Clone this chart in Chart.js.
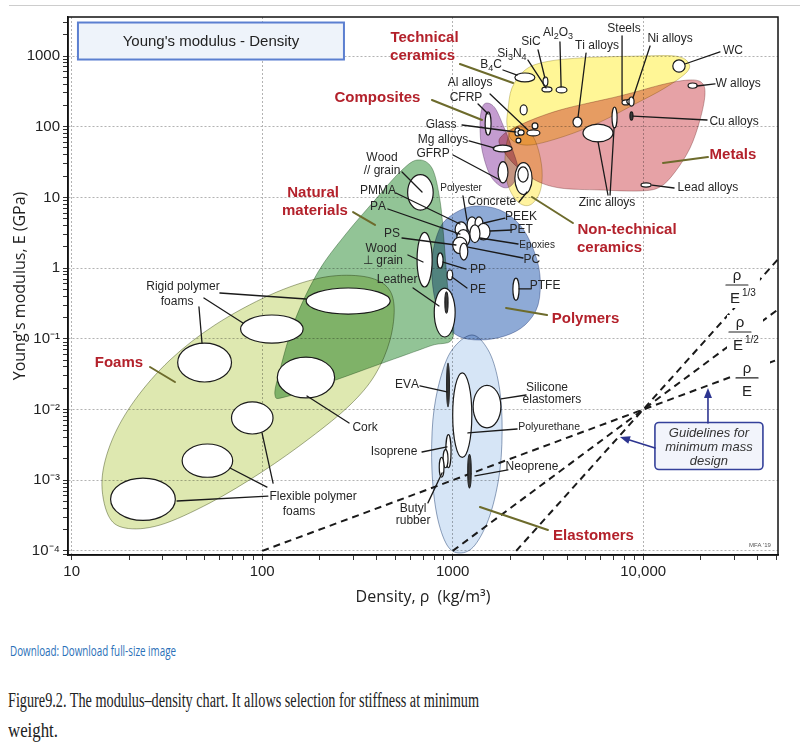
<!DOCTYPE html>
<html>
<head>
<meta charset="utf-8">
<script src="https://cdn.jsdelivr.net/npm/chart.js@4.4.1/dist/chart.umd.min.js"></script>
<style>
  body { margin: 0; background: #fff; width: 800px; height: 748px; overflow: hidden; position: relative; }
  #rule { position: absolute; left: 9px; top: 5px; width: 791px; border-top: 1.5px solid #cdcdcd; }
  #wrap { position: absolute; left: 0; top: 0; width: 800px; height: 620px; }
  .fit { position: absolute; white-space: nowrap; display: inline-block; transform-origin: 0 50%; }
  #dl { left: 10px; top: 642px; font: 14px/18px "Open Sans", sans-serif; color: #2a70b8; }
  .cap { left: 8px; font: 20px/24px "Liberation Serif", serif; color: #222; }
</style>
</head>
<body>
<div id="rule"></div>
<div id="wrap"><canvas id="chart" width="800" height="620"></canvas></div>
<div id="dl" class="fit" data-w="166">Download: Download full-size image</div>
<div class="cap fit" style="top:688px" data-w="471">Figure9.2. The modulus–density chart. It allows selection for stiffness at minimum</div>
<div class="cap fit" style="top:718px" data-w="50">weight.</div>

<script>
// ---- axis ticks ----
const xMajor = [10, 100, 1000, 10000];
const xMajorLabels = ['10', '100', '1000', '10,000'];
const yMajor = [1e-4, 1e-3, 1e-2, 1e-1, 1, 10, 100, 1000];
const yMajorLabels = ['10⁻⁴', '10⁻³', '10⁻²', '10⁻¹', '1', '10', '100', '1000'];

// ---- material bubbles: [name, density min, density max (kg/m3), E min, E max (GPa)] ----
const foams = [
  ['Flexible polymer foam', 16, 35, 2.7e-4, 1.07e-3],
  ['Flexible polymer foam', 38, 70, 1.1e-3, 3.25e-3],
  ['Flexible polymer foam', 69, 114, 4.5e-3, 0.0128],
  ['Rigid polymer foam', 36, 69, 0.0245, 0.087],
  ['Rigid polymer foam', 77, 164, 0.087, 0.217],
  ['Rigid polymer foam', 170, 470, 0.224, 0.523],
  ['Cork', 120, 240, 0.0146, 0.055]
];
const naturals = [
  ['Wood // grain', 580, 790, 6.6, 21],
  ['Wood ⊥ grain', 650, 780, 0.54, 3.2],
  ['Leather', 800, 1030, 0.106, 0.52]
];
const polymers = [
  ['PMMA', 1030, 1190, 2.75, 4.5],
  ['Polyester', 1190, 1340, 3.1, 5.3],
  ['PEEK', 1310, 1440, 3.5, 5.3],
  ['PET', 1340, 1570, 2.5, 4.3],
  ['Epoxies', 1230, 1390, 2.3, 4.1],
  ['PA', 1050, 1230, 2.0, 3.5],
  ['PS', 1000, 1190, 1.6, 2.75],
  ['PC', 1090, 1200, 1.3, 2.26],
  ['PP', 830, 890, 1.0, 1.64],
  ['PE', 935, 1000, 0.68, 0.94],
  ['PTFE', 2070, 2230, 0.35, 0.72]
];
const elastomers = [
  ['Polyurethane', 1000, 1260, 0.0021, 0.033],
  ['Silicone elastomers', 1280, 1790, 0.0055, 0.022],
  ['Isoprene', 920, 980, 0.0015, 0.0044],
  ['Butyl rubber', 890, 945, 0.0015, 0.0027],
  ['Butyl rubber', 850, 900, 0.0011, 0.0021]
];
const composites = [
  ['CFRP', 1480, 1590, 76, 162],
  ['GFRP', 1730, 1950, 16, 32]
];
const ceramics = [
  ['Concrete', 2120, 2610, 11, 31],
  ['Stone', 2200, 2490, 16.5, 27],
  ['Glass', 2120, 2260, 74, 96],
  ['B4C', 2120, 2700, 430, 575],
  ['SiC', 2980, 3160, 375, 505],
  ['Si3N4', 2940, 3320, 310, 365],
  ['Al2O3', 3490, 3980, 300, 365],
  ['AlN', 2260, 2460, 147, 203],
  ['WC', 14300, 16600, 590, 880]
];
const metals = [
  ['Mg alloys', 1630, 2050, 44, 55],
  ['Al alloys', 2450, 2870, 74, 90],
  ['Al alloys', 2610, 2800, 93, 113],
  ['Al alloys', 2200, 2370, 76, 90],
  ['Al alloys', 2150, 2280, 59, 69],
  ['Ti alloys', 4280, 4770, 99, 137],
  ['Zinc alloys', 4830, 6940, 61, 109],
  ['Cast irons', 6860, 7290, 96, 190],
  ['Steels', 7740, 8520, 203, 239],
  ['Steels', 8200, 8800, 210, 245],
  ['Ni alloys', 8420, 8950, 196, 263],
  ['W alloys', 17200, 19200, 350, 415],
  ['Lead alloys', 9740, 11000, 14, 16]
];
const narrowBars = [
  ['Leather', 910, 945, 0.23, 0.46],
  ['EVA', 930, 960, 0.011, 0.045],
  ['Neoprene', 1200, 1250, 0.00078, 0.0023],
  ['Cu alloys', 8520, 8840, 124, 162]
];

// ---- minimum-mass guidelines: [density, E] end points ----
const guideRhoE = [[100, 1e-4], [51000, 0.051]];
const guideRhoE2 = [[1000, 1e-4], [51000, 0.26]];
const guideRhoE3 = [[2154, 1e-4], [51000, 1.33]];

// ---- family envelopes, [log10 density, log10 E] ----
const foamEnv = [[1.280,-3.676],[1.464,-3.634],[1.726,-3.321],[1.999,-2.883],[2.251,-2.403],[2.461,-1.936],[2.592,-1.512],[2.671,-1.017],[2.692,-0.522],[2.645,-0.239],[2.513,-0.111],[2.303,-0.140],[2.041,-0.380],[1.752,-0.804],[1.516,-1.300],[1.332,-1.865],[1.212,-2.431],[1.159,-2.996],[1.191,-3.492]];
const naturalEnv = [[2.813,1.529],[2.891,1.416],[2.933,0.963],[2.954,0.398],[2.975,-0.310],[3.002,-0.974],[2.881,-1.102],[2.618,-1.357],[2.356,-1.611],[2.120,-1.823],[2.067,-1.795],[2.093,-1.441],[2.172,-0.734],[2.293,-0.055],[2.435,0.468],[2.592,0.963],[2.723,1.359]];
const polymerEnv = [[2.933,0.567],[3.012,0.779],[3.117,0.878],[3.248,0.822],[3.353,0.610],[3.421,0.284],[3.458,-0.097],[3.448,-0.522],[3.380,-0.804],[3.274,-0.960],[3.143,-1.017],[3.028,-0.960],[2.944,-0.734],[2.902,-0.380],[2.891,0.115]];
const elastomerEnv = [[3.101,-0.946],[3.186,-1.158],[3.238,-1.583],[3.259,-2.148],[3.248,-2.855],[3.196,-3.492],[3.117,-3.917],[3.038,-4.030],[2.970,-3.917],[2.917,-3.492],[2.891,-2.855],[2.896,-2.148],[2.933,-1.583],[2.996,-1.158]];
const metalEnv = [[3.248,1.840],[3.353,2.024],[3.563,2.236],[3.878,2.435],[4.114,2.605],[4.246,2.661],[4.309,2.619],[4.324,2.448],[4.298,2.095],[4.246,1.699],[4.167,1.359],[4.088,1.147],[3.983,1.091],[3.773,1.105],[3.563,1.133],[3.432,1.246],[3.327,1.458],[3.264,1.671]];
const techCeramicEnv = [[3.290,2.236],[3.311,2.548],[3.380,2.802],[3.484,2.915],[3.668,2.972],[3.983,3.000],[4.167,3.000],[4.235,2.915],[4.230,2.775],[4.114,2.548],[3.957,2.321],[3.773,2.065],[3.590,1.868],[3.406,1.741],[3.311,1.812],[3.285,2.024]];
const compositeEnv = [[3.180,2.335],[3.222,2.265],[3.264,2.024],[3.311,1.699],[3.343,1.388],[3.311,1.175],[3.259,1.147],[3.196,1.317],[3.154,1.671],[3.143,2.024],[3.154,2.265]];
const nonTechEnv = [[3.327,1.996],[3.395,1.953],[3.442,1.741],[3.469,1.388],[3.458,1.076],[3.406,0.893],[3.343,0.935],[3.290,1.175],[3.274,1.529],[3.290,1.840]];

// ---- annotations, [log10 density, log10 E] ----
const familyLabels = [
  ['Technical', 2.852, 3.255], ['ceramics', 2.842, 3.000], ['Composites', 2.605, 2.406],
  ['Metals', 4.471, 1.600], ['Non-technical', 3.915, 0.539], ['ceramics', 3.823, 0.284],
  ['Natural', 2.267, 1.062], ['materials', 2.277, 0.808], ['Polymers', 3.697, -0.720],
  ['Foams', 1.248, -1.342], ['Elastomers', 3.739, -3.789]
];
const familyLeaders = [
  [[3.038,2.887],[3.317,2.619]], [[2.891,2.378],[3.154,2.095]], [[2.477,0.793],[2.592,0.610]],
  [[4.340,1.571],[4.104,1.487]], [[3.631,0.638],[3.416,1.006]], [[3.495,-0.663],[3.280,-0.564]],
  [[1.411,-1.399],[1.542,-1.611]], [[3.500,-3.704],[3.143,-3.379]]
];
const materialLabels = [
  ['Al_2O_3', 3.553, 3.325], ['SiC', 3.411, 3.198], ['Si_3N_4', 3.311, 3.028], ['B_4C', 3.201, 2.873],
  ['Ti alloys', 3.757, 3.141], ['Steels', 3.899, 3.382], ['Ni alloys', 4.141, 3.240], ['WC', 4.471, 3.071],
  ['W alloys', 4.498, 2.605], ['Cu alloys', 4.477, 2.065], ['Lead alloys', 4.340, 1.133], ['Zinc alloys', 3.810, 0.921],
  ['Al alloys', 3.091, 2.619], ['CFRP', 3.070, 2.406], ['Glass', 2.939, 2.024], ['Mg alloys', 2.949, 1.812],
  ['GFRP', 2.897, 1.614], ['Polyester', 3.044, 1.133, 10], ['Concrete', 3.206, 0.935], ['PEEK', 3.359, 0.723],
  ['PET', 3.359, 0.539], ['Epoxies', 3.443, 0.327, 10], ['PC', 3.416, 0.115], ['PMMA', 2.608, 1.091],
  ['PA', 2.608, 0.864], ['PS', 2.681, 0.482], ['Wood', 2.624, 0.270], ['⊥ grain', 2.634, 0.101],
  ['Wood', 2.629, 1.557], ['// grain', 2.629, 1.373], ['Leather', 2.708, -0.168], ['PP', 3.133, -0.027],
  ['PE', 3.133, -0.310], ['PTFE', 3.485, -0.253], ['Rigid polymer', 1.584, -0.267], ['foams', 1.553, -0.479],
  ['Flexible polymer', 2.267, -3.238], ['foams', 2.193, -3.450], ['Cork', 2.540, -2.262], ['EVA', 2.760, -1.653],
  ['Silicone', 3.495, -1.696], ['elastomers', 3.521, -1.865], ['Polyurethane', 3.506, -2.248, 10.5],
  ['Isoprene', 2.692, -2.601], ['Neoprene', 3.416, -2.813], ['Butyl', 2.792, -3.407], ['rubber', 2.792, -3.577]
];
const materialLeaders = [
  [[3.563,3.198],[3.569,2.562]], [[3.448,3.085],[3.484,2.689]], [[3.395,2.943],[3.490,2.548]], [[3.264,2.802],[3.338,2.731]],
  [[3.700,3.042],[3.658,2.137]], [[3.889,3.283],[3.889,2.378]], [[4.036,3.141],[3.946,2.406]], [[4.403,3.057],[4.219,2.887]],
  [[4.377,2.605],[4.282,2.576]], [[4.335,2.095],[3.946,2.151]], [[4.162,1.133],[4.046,1.175]], [[3.815,1.034],[3.763,1.784]],
  [[3.826,1.034],[3.847,1.982]], [[3.196,2.462],[3.395,1.953]], [[3.133,2.321],[3.186,2.180]], [[3.049,2.024],[3.332,1.925]],
  [[3.086,1.798],[3.217,1.699]], [[3.002,1.600],[3.248,1.246]], [[3.054,1.020],[3.075,0.680]], [[3.348,0.935],[3.390,1.076]],
  [[3.274,0.708],[3.164,0.638]], [[3.311,0.539],[3.196,0.525]], [[3.343,0.341],[3.143,0.426]], [[3.369,0.143],[3.080,0.298]],
  [[2.702,1.062],[3.038,0.624]], [[2.660,0.836],[3.038,0.482]], [[2.734,0.426],[3.017,0.327]], [[2.765,0.185],[2.844,0.086]],
  [[2.734,1.359],[2.839,1.076]], [[2.792,-0.281],[2.928,-0.536]], [[3.070,-0.013],[2.949,0.086]], [[3.075,-0.281],[2.996,-0.126]],
  [[3.411,-0.295],[3.348,-0.295]], [[1.778,-0.352],[2.230,-0.437]], [[1.694,-0.423],[1.899,-0.777]], [[1.668,-0.550],[1.684,-1.059]],
  [[2.030,-3.224],[1.553,-3.294]], [[2.025,-3.097],[1.831,-2.827]], [[2.057,-3.040],[1.999,-2.332]], [[2.456,-2.191],[2.235,-1.809]],
  [[2.828,-1.667],[2.970,-1.752]], [[3.385,-1.795],[3.254,-1.851]], [[3.338,-2.276],[3.080,-2.332]], [[2.839,-2.601],[2.970,-2.530]],
  [[3.290,-2.855],[3.117,-2.940]], [[2.870,-3.321],[2.944,-2.897]]
];
const guideLabels = [['1/3', 4.492, -0.239], ['1/2', 4.508, -0.904], ['', 4.545, -1.554]];
const guideNote = ['Guidelines for', 'minimum mass', 'design'];
const guideNoteAt = [4.345, -2.516];
const guideArrows = [[[4.340,-2.190],[4.340,-1.696]], [[4.062,-2.544],[3.878,-2.389]]];
const chartTitle = "Young's modulus - Density";
const chartTitleAt = [1.731, 3.212];

const SANS = '"Liberation Sans", Arial, sans-serif';
const RED = '#b3212b';

function P(chart, p) {
  return [chart.scales.x.getPixelForValue(Math.pow(10, p[0])), chart.scales.y.getPixelForValue(Math.pow(10, p[1]))];
}

function smoothClosed(ctx, pts) {
  const n = pts.length, t = 1 / 6;
  ctx.beginPath();
  ctx.moveTo(pts[0][0], pts[0][1]);
  for (let i = 0; i < n; i++) {
    const p0 = pts[(i - 1 + n) % n], p1 = pts[i], p2 = pts[(i + 1) % n], p3 = pts[(i + 2) % n];
    ctx.bezierCurveTo(p1[0] + (p2[0] - p0[0]) * t, p1[1] + (p2[1] - p0[1]) * t,
                      p2[0] - (p3[0] - p1[0]) * t, p2[1] - (p3[1] - p1[1]) * t, p2[0], p2[1]);
  }
  ctx.closePath();
}

function bubble(chart, b, dark) {
  const {ctx, scales: {x, y}} = chart;
  const x1 = x.getPixelForValue(b[1]), x2 = x.getPixelForValue(b[2]);
  const y1 = y.getPixelForValue(b[3]), y2 = y.getPixelForValue(b[4]);
  ctx.beginPath();
  ctx.ellipse((x1 + x2) / 2, (y1 + y2) / 2, Math.abs(x2 - x1) / 2, Math.abs(y2 - y1) / 2, 0, 0, Math.PI * 2);
  ctx.fillStyle = dark ? '#3a3a3a' : '#fff';
  ctx.fill();
  ctx.lineWidth = 1.2;
  ctx.strokeStyle = '#1a1a1a';
  ctx.stroke();
}

// text where "_x" puts x as subscript
function richText(ctx, str, x, y, size) {
  const segs = [];
  for (let i = 0; i < str.length; i++) {
    if (str[i] === '_') { segs.push([str[i + 1], true]); i++; } else segs.push([str[i], false]);
  }
  const fnt = s => `${s}px ${SANS}`;
  let w = 0;
  segs.forEach(s => { ctx.font = fnt(s[1] ? size * 0.75 : size); w += ctx.measureText(s[0]).width; });
  let cx = x - w / 2;
  ctx.textAlign = 'left';
  segs.forEach(s => {
    ctx.font = fnt(s[1] ? size * 0.75 : size);
    ctx.fillText(s[0], cx, s[1] ? y + size * 0.3 : y);
    cx += ctx.measureText(s[0]).width;
  });
}

function line(ctx, a, b) { ctx.beginPath(); ctx.moveTo(a[0], a[1]); ctx.lineTo(b[0], b[1]); ctx.stroke(); }

function arrow(ctx, a, b) {
  const ang = Math.atan2(b[1] - a[1], b[0] - a[0]), h = 10, w = 4;
  const bx = b[0] - h * Math.cos(ang), by = b[1] - h * Math.sin(ang);
  line(ctx, a, [bx, by]);
  ctx.beginPath();
  ctx.moveTo(b[0], b[1]);
  ctx.lineTo(bx + w * Math.sin(ang), by - w * Math.cos(ang));
  ctx.lineTo(bx - w * Math.sin(ang), by + w * Math.cos(ang));
  ctx.closePath();
  ctx.fill();
}

function roundRect(ctx, x, y, w, h, r) {
  ctx.beginPath();
  ctx.moveTo(x + r, y); ctx.arcTo(x + w, y, x + w, y + h, r); ctx.arcTo(x + w, y + h, x, y + h, r);
  ctx.arcTo(x, y + h, x, y, r); ctx.arcTo(x, y, x + w, y, r); ctx.closePath();
}

const envelopes = [
  [foamEnv, 'rgb(222,232,176)', 'rgba(110,120,80,0.6)'],
  [naturalEnv, 'rgb(146,196,150)', 'rgba(80,120,80,0.5)'],
  [polymerEnv, 'rgb(142,170,214)', 'rgba(80,100,150,0.5)'],
  [elastomerEnv, 'rgb(214,229,246)', 'rgba(120,140,170,0.8)'],
  [metalEnv, 'rgb(230,162,166)', 'rgba(150,100,100,0.5)'],
  [techCeramicEnv, 'rgb(255,246,150)', 'rgba(170,160,90,0.5)'],
  [compositeEnv, 'rgb(196,156,208)', 'rgba(130,100,140,0.5)'],
  [nonTechEnv, 'rgb(255,243,160)', 'rgba(170,160,90,0.5)']
];

function guideLabelBoxes(chart) {
  return guideLabels.map(g => { const c = P(chart, [g[1], g[2]]); return [c[0] - 13, c[1] - 17, 36, 40]; });
}

const ashby = {
  id: 'ashby',
  beforeDatasetsDraw(chart) {
    const {ctx, chartArea: a} = chart;
    ctx.save();
    ctx.beginPath(); ctx.rect(a.left, a.top, a.right - a.left, a.bottom - a.top); ctx.clip();
    ctx.globalCompositeOperation = 'multiply';
    envelopes.forEach(e => {
      smoothClosed(ctx, e[0].map(p => P(chart, p)));
      ctx.fillStyle = e[1]; ctx.fill();
      ctx.lineWidth = 1; ctx.strokeStyle = e[2]; ctx.stroke();
    });
    ctx.restore();
  },
  beforeDatasetDraw(chart) {
    const ctx = chart.ctx;
    ctx.save();
    ctx.beginPath();
    ctx.rect(0, 0, chart.width, chart.height);
    guideLabelBoxes(chart).forEach(r => ctx.rect(r[0], r[1], r[2], r[3]));
    ctx.clip('evenodd');
  },
  afterDatasetDraw(chart) { chart.ctx.restore(); },
  afterDatasetsDraw(chart) {
    const {ctx, chartArea: a} = chart;
    ctx.save();
    // bubbles
    [foams, naturals, polymers, elastomers, composites, ceramics, metals].forEach(g => g.forEach(b => bubble(chart, b, false)));
    narrowBars.forEach(b => bubble(chart, b, true));
    // leaders
    ctx.lineCap = 'round';
    ctx.strokeStyle = '#1a1a1a'; ctx.lineWidth = 1.3;
    materialLeaders.forEach(l => line(ctx, P(chart, l[0]), P(chart, l[1])));
    ctx.strokeStyle = '#6d6b2c'; ctx.lineWidth = 2;
    familyLeaders.forEach(l => line(ctx, P(chart, l[0]), P(chart, l[1])));
    // labels
    ctx.textBaseline = 'middle';
    ctx.fillStyle = '#262626';
    materialLabels.forEach(m => { const c = P(chart, [m[1], m[2]]); richText(ctx, m[0], c[0], c[1], m[3] || 12); });
    ctx.fillStyle = RED; ctx.textAlign = 'center'; ctx.font = `bold 15px ${SANS}`;
    familyLabels.forEach(f => { const c = P(chart, [f[1], f[2]]); ctx.fillText(f[0], c[0], c[1]); });
    // guideline fractions
    ctx.fillStyle = '#222'; ctx.strokeStyle = '#222'; ctx.lineWidth = 1.2;
    guideLabels.forEach(g => {
      const c = P(chart, [g[1], g[2]]);
      ctx.textAlign = 'center'; ctx.font = `15px ${SANS}`;
      ctx.fillText('ρ', c[0], c[1] - 9);
      line(ctx, [c[0] - 11, c[1]], [c[0] + 11, c[1]]);
      ctx.fillText('E', g[0] ? c[0] - 2 : c[0], c[1] + 14);
      if (g[0]) { ctx.textAlign = 'left'; ctx.font = `10px ${SANS}`; ctx.fillText(g[0], c[0] + 5, c[1] + 8); }
    });
    // guideline note box + arrows
    const nb = P(chart, guideNoteAt);
    roundRect(ctx, nb[0] - 54, nb[1] - 23.5, 108, 47, 4);
    ctx.fillStyle = '#f2f4fb'; ctx.fill();
    ctx.strokeStyle = '#34409a'; ctx.lineWidth = 1.6; ctx.stroke();
    ctx.fillStyle = '#333'; ctx.textAlign = 'center'; ctx.font = `italic 13px ${SANS}`;
    guideNote.forEach((t, i) => ctx.fillText(t, nb[0], nb[1] - 12.5 + i * 14));
    ctx.fillStyle = '#2d3590'; ctx.strokeStyle = '#2d3590'; ctx.lineWidth = 1.6;
    guideArrows.forEach(ar => arrow(ctx, P(chart, ar[0]), P(chart, ar[1])));
    // title box
    const tb = P(chart, chartTitleAt);
    ctx.fillStyle = '#eef3fa'; ctx.fillRect(tb[0] - 133, tb[1] - 18.5, 266, 37);
    ctx.strokeStyle = '#5b7fd0'; ctx.lineWidth = 2; ctx.strokeRect(tb[0] - 133, tb[1] - 18.5, 266, 37);
    ctx.fillStyle = '#222'; ctx.font = `15px ${SANS}`; ctx.fillText(chartTitle, tb[0], tb[1] + 1);
    // credit
    const mf = P(chart, [4.613, -3.917]);
    ctx.fillStyle = '#555'; ctx.font = `6px ${SANS}`; ctx.fillText("MFA '19", mf[0], mf[1]);
    // frame
    ctx.strokeStyle = '#111'; ctx.lineWidth = 1.5;
    ctx.strokeRect(a.left, a.top, a.right - a.left, a.bottom - a.top);
    ctx.restore();
  }
};

function logTicks(min, max) {
  const t = [];
  for (let e = -5; e <= 5; e++) for (let m = 1; m <= 9; m++) {
    const v = m * Math.pow(10, e);
    if (v >= min && v <= max) t.push({value: v, major: m === 1});
  }
  return t;
}
function labelFor(v, majors, labels) {
  const i = majors.findIndex(m => Math.abs(v / m - 1) < 1e-6);
  return i < 0 ? '' : labels[i];
}
function axis(min, max, majors, labels, title, titlePad, fit) {
  return {
    type: 'logarithmic', min, max, bounds: 'data',
    afterBuildTicks: s => { s.ticks = logTicks(s.min, s.max); },
    afterFit: fit,
    grid: {
      color: c => (c.tick && c.tick.major) ? '#b3b3b3' : 'rgba(0,0,0,0)',
      lineWidth: 1, tickColor: '#333', tickLength: 5
    },
    border: {display: true, color: '#111', width: 1.5, dash: [2, 2]},
    ticks: {
      autoSkip: false, maxRotation: 0, padding: 3, color: '#222',
      font: {family: SANS, size: 15},
      callback: v => labelFor(v, majors, labels)
    },
    title: {display: true, text: title, color: '#222', font: {family: '"Open Sans", sans-serif', size: 16}, padding: titlePad}
  };
}

const pts = arr => arr.map(p => ({x: p[0], y: p[1]}));
const guideStyle = {showLine: true, borderColor: '#1a1a1a', borderWidth: 2, borderDash: [7, 5], pointRadius: 0, fill: false};

new Chart(document.getElementById('chart'), {
  type: 'scatter',
  data: {
    datasets: [
      {label: 'ρ/E', data: pts(guideRhoE), ...guideStyle},
      {label: 'ρ/E^1/2', data: pts(guideRhoE2), ...guideStyle},
      {label: 'ρ/E^1/3', data: pts(guideRhoE3), ...guideStyle}
    ]
  },
  options: {
    responsive: false, animation: false, events: [],
    layout: {padding: {left: 0, top: 17, right: 22, bottom: 0}},
    plugins: {legend: {display: false}, tooltip: {enabled: false}},
    scales: {
      x: axis(9.563, 51000, xMajor, xMajorLabels, 'Density, ρ  (kg/m³)', {top: 0, bottom: 13}, s => { s.height = 65; }),
      y: axis(8.75e-5, 3562, yMajor, yMajorLabels, "Young's modulus, E (GPa)", {top: 11, bottom: 0}, s => { s.width = 68; })
    }
  },
  plugins: [ashby]
});

document.querySelectorAll('.fit').forEach(el => {
  const w = el.getBoundingClientRect().width;
  el.style.transform = `scaleX(${el.dataset.w / w})`;
});
</script>
</body>
</html>
